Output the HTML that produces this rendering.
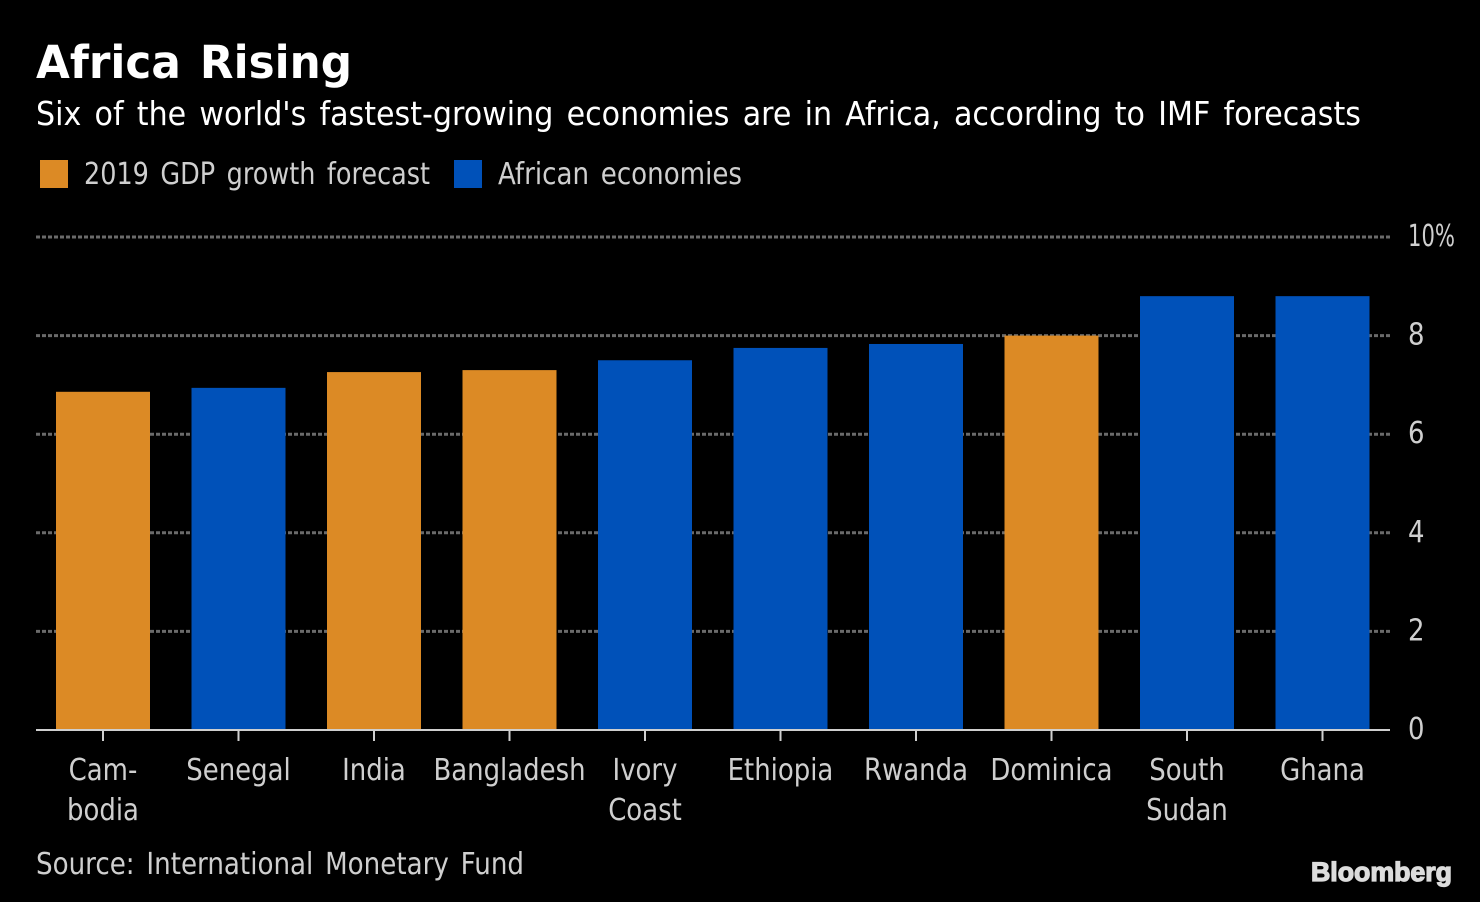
<!DOCTYPE html>
<html lang="en">
<head>
<meta charset="utf-8">
<title>Africa Rising</title>
<style>
html,body{margin:0;padding:0;background:#000;width:1480px;height:902px;overflow:hidden}
svg{display:block}
text{font-family:"DejaVu Sans","Liberation Sans",sans-serif}
</style>
</head>
<body>
<svg id="chart" xmlns="http://www.w3.org/2000/svg" width="1480" height="902" viewBox="0 0 1480 902">
  <rect x="0" y="0" width="1480" height="902" fill="#000"/>
  <text x="36" y="78" font-size="45" font-weight="700" fill="#fff" word-spacing="4" textLength="316" lengthAdjust="spacingAndGlyphs">Africa Rising</text>
  <text x="36" y="125" font-size="33" fill="#fff" word-spacing="4" textLength="1325" lengthAdjust="spacingAndGlyphs">Six of the world's fastest-growing economies are in Africa, according to IMF forecasts</text>
  <rect x="40" y="160" width="28" height="28" fill="#dc8a25"/>
  <text x="84" y="184" font-size="30" fill="#cfcfcf" word-spacing="4" textLength="346" lengthAdjust="spacingAndGlyphs">2019 GDP growth forecast</text>
  <rect x="454" y="160" width="28" height="28" fill="#0051b9"/>
  <text x="498" y="184" font-size="30" fill="#cfcfcf" word-spacing="4" textLength="244" lengthAdjust="spacingAndGlyphs">African economies</text>
  <g id="grid"></g>
  <g id="bars"></g>
  <g id="axis"></g>
  <text x="36" y="874" font-size="30" fill="#cfcfcf" word-spacing="4" textLength="488" lengthAdjust="spacingAndGlyphs">Source: International Monetary Fund</text>
  <text x="1311" y="881" font-size="27" font-weight="700" fill="#dcdcdc" stroke="#dcdcdc" stroke-width="1.3" textLength="141" lengthAdjust="spacingAndGlyphs" style="font-family:'Liberation Sans',sans-serif">Bloomberg</text>
</svg>
<script>
const categories = [["Cam-","bodia"],["Senegal"],["India"],["Bangladesh"],["Ivory","Coast"],["Ethiopia"],["Rwanda"],["Dominica"],["South","Sudan"],["Ghana"]];
const values = [6.86,6.94,7.26,7.3,7.5,7.75,7.83,8.0,8.8,8.8];
const isAfrican = [false,true,false,false,true,true,true,false,true,true];
const yTicks = [0,2,4,6,8,10];
const yTickLabels = ["0","2","4","6","8","10%"];

const NS = "http://www.w3.org/2000/svg";
const COLOR_FORECAST = "#dc8a25";
const COLOR_AFRICAN = "#0051b9";
const LABEL_COLOR = "#cfcfcf";
const plot = {left: 36, right: 1390, top: 237, bottom: 730, yMax: 10, firstCenter: 103, step: 135.5, barWidth: 94};
const CONDENSE = 0.865;
const Y_LABEL_MAX_WIDTH = 47;

function yScale(v) { return plot.bottom - (v / plot.yMax) * (plot.bottom - plot.top); }
function xScale(i) { return plot.firstCenter + i * plot.step; }

function make(tag, attrs, parent) {
  const el = document.createElementNS(NS, tag);
  for (const k in attrs) el.setAttribute(k, attrs[k]);
  parent.appendChild(el);
  return el;
}
function condense(el, maxWidth) {
  let w = el.getComputedTextLength() * CONDENSE;
  if (maxWidth && w > maxWidth) w = maxWidth;
  el.setAttribute('textLength', w.toFixed(1));
  el.setAttribute('lengthAdjust', 'spacingAndGlyphs');
}

const gridG = document.getElementById('grid');
const barsG = document.getElementById('bars');
const axisG = document.getElementById('axis');

yTicks.forEach(function (t, i) {
  const y = yScale(t);
  if (t !== 0) {
    const line = make('line', {x1: plot.left, x2: plot.right, y1: y, y2: y, stroke: '#6a6a6a', 'stroke-width': 3, 'stroke-dasharray': '4 2'}, gridG);
    
    
  }
  const label = make('text', {x: 1408, y: y + 9, 'font-size': 30, fill: LABEL_COLOR}, axisG);
  label.textContent = yTickLabels[i];
  
  
  condense(label, Y_LABEL_MAX_WIDTH);
});

values.forEach(function (v, i) {
  const top = yScale(v);
  const bar = make('rect', {x: xScale(i) - plot.barWidth / 2, y: top, width: plot.barWidth, height: plot.bottom - top, fill: isAfrican[i] ? COLOR_AFRICAN : COLOR_FORECAST}, barsG);
  
  
});

const baseline = make('line', {x1: plot.left, x2: plot.right, y1: plot.bottom, y2: plot.bottom, stroke: '#cfcfcf', 'stroke-width': 2}, axisG);



categories.forEach(function (lines, i) {
  const x = xScale(i);
  const tick = make('line', {x1: x, x2: x, y1: plot.bottom, y2: plot.bottom + 11, stroke: '#cfcfcf', 'stroke-width': 2}, axisG);
  
  
  lines.forEach(function (line, j) {
    const label = make('text', {x: x, y: 780 + j * 40, 'font-size': 30, fill: LABEL_COLOR, 'text-anchor': 'middle'}, axisG);
    label.textContent = line;
    
    
    condense(label);
  });
});
</script>
</body>
</html>
